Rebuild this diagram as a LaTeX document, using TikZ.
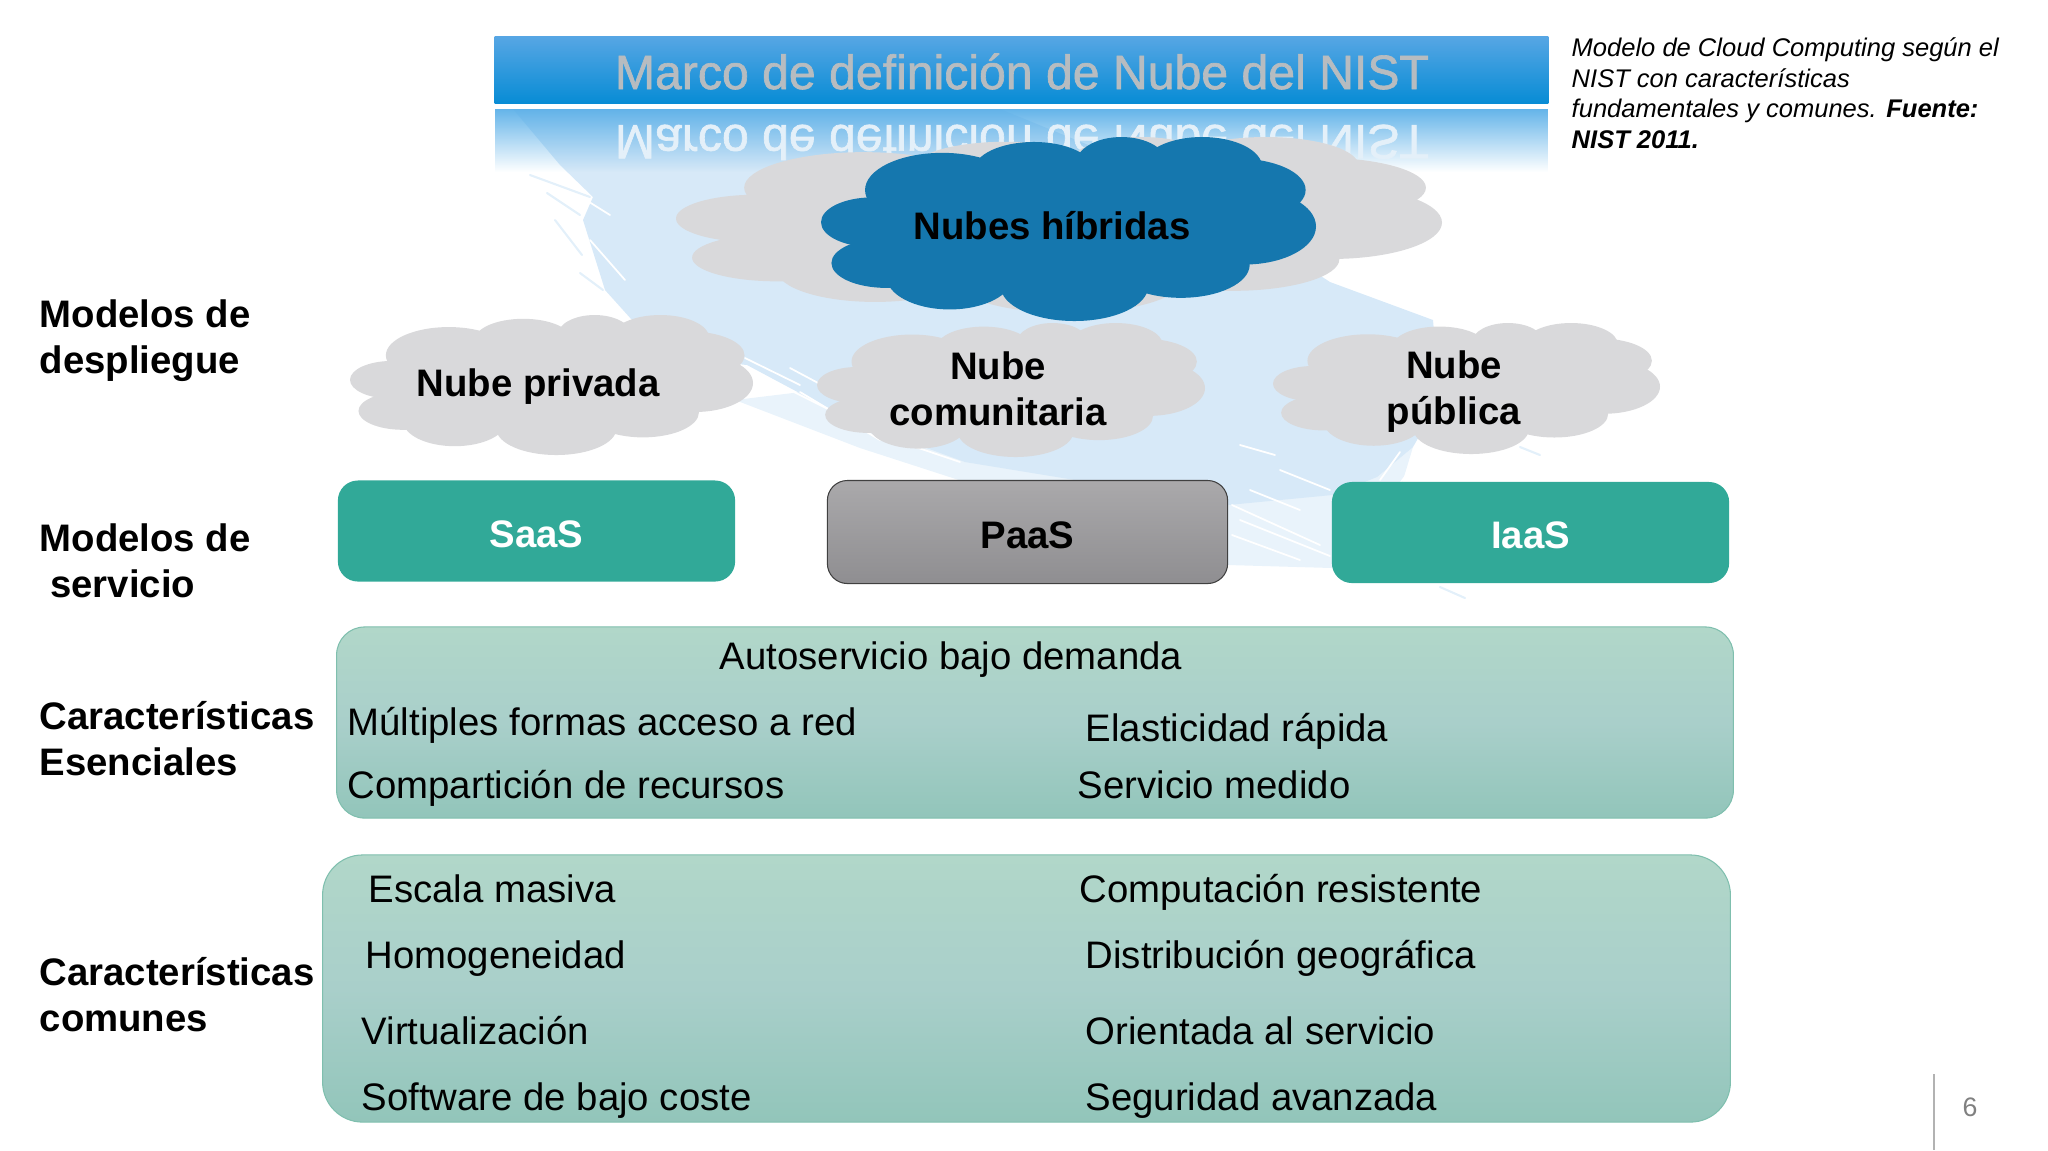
\documentclass[tikz,border=0pt]{standalone}
\usepackage{fontspec}
\usepackage{graphicx}
\setmainfont{Liberation Sans}
\newfontfamily\marcofont[FakeBold=1.3]{Liberation Sans}
\usetikzlibrary{fadings}
\definecolor{azulclaro}{HTML}{D7E9F8}
\definecolor{azulnube}{HTML}{1577AE}
\definecolor{grisnube}{HTML}{D9D9DB}
\definecolor{verdesaas}{HTML}{31A998}
\definecolor{bordeverde}{HTML}{7FBFAE}
\definecolor{verdearriba}{HTML}{B1D7C9}
\definecolor{verdemedio}{HTML}{A9CFCA}
\definecolor{verdeabajo}{HTML}{92C5BA}
\definecolor{gristitulo}{HTML}{B7BCC0}
\definecolor{reflejotexto}{HTML}{E4F0F9}
\tikzfading[name=reflejo,top color=transparent!5,bottom color=transparent!100]
\newcommand{\nube}[5]{
	\begin{scope}[shift={(#1,#2)},x=#3*0.01cm,y=-#4*0.01cm]
		\foreach \cx/\cy/\rx/\ry in {.104/.463/.104/.135,.245/.288/.156/.202,.430/.180/.121/.153,.607/.144/.092/.144,.770/.162/.121/.162,.841/.288/.138/.171,.855/.486/.145/.207,.727/.694/.139/.180,.512/.811/.149/.189,.260/.757/.128/.180,.132/.685/.111/.135,.5/.5/.38/.36}
			\fill[#5] (\cx,\cy) ellipse [x radius=\rx,y radius=\ry];
	\end{scope}
}
\tikzset{
	titulo/.style={font=\fontsize{13.7}{16}\selectfont\marcofont,anchor=base,inner sep=0pt},
	negrita/.style={font=\fontsize{10.9}{12.9}\selectfont\bfseries,inner sep=0pt},
	etiqueta/.style={negrita,align=left,anchor=base west},
	rotulo/.style={negrita,align=center,anchor=base},
	item/.style={font=\fontsize{10.9}{13}\selectfont,anchor=base west,inner sep=0pt},
	modelo/.style={negrita,rounded corners=0.2cm,minimum width=3.97cm,minimum height=1.01cm,text height=0.32cm,text depth=0pt},
	caja/.style={draw=bordeverde,line width=0.3pt,top color=verdearriba,bottom color=verdeabajo,middle color=verdemedio},
	franja/.style={white,line width=0.5pt,line cap=round},
	borde/.style={azulclaro!70,line width=0.6pt,line cap=round},
}
\begin{document}
\begin{tikzpicture}[x=0.01cm,y=-0.01cm]
	\useasboundingbox (0,0) rectangle (2048,1150);

	\fill[azulclaro!55] (735,400) -- (860,448) -- (965,482) -- (1228,565) -- (1332,568) -- (1400,490) -- (1413,447) -- (1300,400) -- (900,380) -- cycle;
	\fill[azulclaro] (513,109) -- (560,165) -- (593,197) -- (583,220) -- (605,290) -- (632,320) -- (700,360) -- (747,365) -- (850,420) -- (965,462) -- (1228,505) -- (1332,495) -- (1377,477) -- (1413,447) -- (1440,400) -- (1433,320) -- (1330,282) -- (1250,230) -- (1150,170) -- (1000,109) -- cycle;
	\foreach \xa/\ya/\xb/\yb in {745/358/800/385,760/375/830/410,790/368/850/400,800/392/880/440,840/410/900/440,880/435/960/462,1232/505/1320/545,1240/520/1330/556,1250/490/1300/510,1232/535/1300/560,1400/452/1380/480,1410/470/1395/490,1240/445/1275/455,570/190/610/215,590/240/625/280,1280/470/1330/490}
		\draw[franja] (\xa,\ya) -- (\xb,\yb);
	\foreach \xa/\ya/\xb/\yb in {530/175/590/197,547/193/580/215,555/220/582/255,580/273/603/290,1440/587/1465/598,1520/447/1540/455}
		\draw[borde] (\xa,\ya) -- (\xb,\yb);
	\fill[color=white] (495,104) rectangle (1548,109);
	\fill[color={rgb,255:red,92;green,176;blue,232},path fading=reflejo] (495,109) rectangle (1548,172);

	\node (reflejado) at (1022,124) [titulo,anchor=north,text=reflejotexto] {\scalebox{1}[-1]{Marco de definición de Nube del NIST}};
	\node (barra) at (1021.5,70) [minimum width=10.53cm,minimum height=0.66cm,inner sep=0pt,top color={rgb,255:red,86;green,166;blue,228},bottom color={rgb,255:red,8;green,140;blue,213}] {};
	\node (marco) at (1022,89) [titulo,text=gristitulo] {Marco de definición de Nube del NIST};

	\nube{676}{137}{766}{176}{grisnube}
	\nube{821}{137}{495}{184}{azulnube}
	\nube{350}{315}{403}{140}{grisnube}
	\nube{817}{323}{388}{134}{grisnube}
	\nube{1273}{323}{387}{131}{grisnube}

	\node (hibridas) at (1052,239) [rotulo] {Nubes híbridas};
	\node (privada) at (538,396) [rotulo] {Nube privada};
	\node (comunitaria) at (998,425) [rotulo] {Nube\\comunitaria};
	\node (publica) at (1454,424) [rotulo] {Nube\\pública};

	\node (saas) at (536.5,531) [modelo,fill=verdesaas,text=white] {SaaS};
	\node (paas) at (1027.5,532) [modelo,minimum width=4cm,minimum height=1.03cm,draw=black!75,line width=0.3pt,top color={rgb,255:red,170;green,169;blue,171},bottom color={rgb,255:red,143;green,142;blue,145}] {PaaS};
	\node (iaas) at (1530.5,532.5) [modelo,fill=verdesaas,text=white] {IaaS};

	\node (esenciales) at (1035,722.5) [caja,rounded corners=0.28cm,minimum width=13.96cm,minimum height=1.91cm] {};
	\node (comunes) at (1026.5,988.5) [caja,rounded corners=0.4cm,minimum width=14.07cm,minimum height=2.67cm] {};

	\node (despliegue) at (39,373) [etiqueta] {Modelos de\\despliegue};
	\node (servicio) at (39,597) [etiqueta] {Modelos de\\\hspace*{0.278em}servicio};
	\node (carac) at (39,775) [etiqueta] {Características\\Esenciales};
	\node (comun) at (39,1031) [etiqueta] {Características\\comunes};

	\node (auto) at (719,669) [item] {Autoservicio bajo demanda};
	\node (multiples) at (347,735.5) [item] {Múltiples formas acceso a red};
	\node (elasticidad) at (1085,741) [item] {Elasticidad rápida};
	\node (comparticion) at (347,798) [item] {Compartición de recursos};
	\node (medido) at (1077,798) [item] {Servicio medido};
	\node (escala) at (368,902) [item] {Escala masiva};
	\node (resistente) at (1079,902) [item] {Computación resistente};
	\node (homogeneidad) at (365,968) [item] {Homogeneidad};
	\node (distribucion) at (1085,968) [item] {Distribución geográfica};
	\node (virtual) at (361,1044) [item] {Virtualización};
	\node (orientada) at (1085,1044) [item] {Orientada al servicio};
	\node (software) at (361,1110) [item] {Software de bajo coste};
	\node (seguridad) at (1085,1110) [item] {Seguridad avanzada};

	\node (modelo) at (1571,37) [anchor=north west,inner sep=0pt,align=left,font=\fontsize{7.26}{8.7}\selectfont\itshape] {Modelo de Cloud Computing según el\\NIST con características\\fundamentales y comunes. \textbf{Fuente:}\\\textbf{NIST 2011.}};

	\coordinate (P) at (1934,1074);
	\coordinate (Q) at (1934,1150);
	\draw[color=black!30,line width=0.4pt] (P) -- (Q);
	\node (pagina) at (1970,1116) [anchor=base,inner sep=0pt,text=black!50,font=\fontsize{7.6}{9}\selectfont] {6};
\end{tikzpicture}
\end{document}
